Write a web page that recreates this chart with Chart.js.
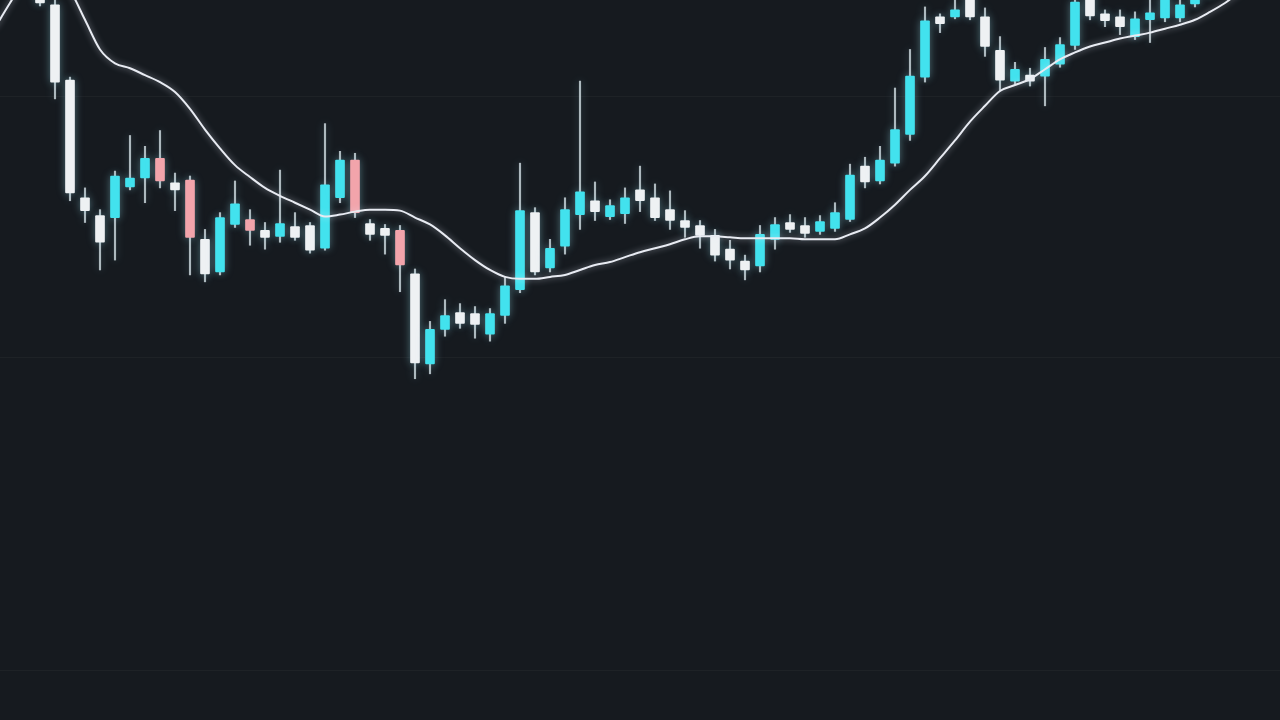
<!DOCTYPE html>
<html>
<head>
<meta charset="utf-8">
<script src="https://cdn.jsdelivr.net/npm/chart.js@4.4.1/dist/chart.umd.min.js"></script>
<style>
    html, body { margin: 0; padding: 0; background: #161a1f; }
    #wrap { width: 1280px; height: 720px; position: relative; }
</style>
</head>
<body>
<div id="wrap"><canvas id="chart"></canvas></div>
<script>
// trading days shown in the frame (day 0 only carries the average)
const days = [0, 1, 2, 3, 4, 5, 6, 7, 8, 9, 10, 11, 12, 13, 14, 15, 16, 17, 18, 19, 20,
    21, 22, 23, 24, 25, 26, 27, 28, 29, 30, 31, 32, 33, 34, 35, 36, 37, 38, 39, 40,
    41, 42, 43, 44, 45, 46, 47, 48, 49, 50, 51, 52, 53, 54, 55, 56, 57, 58, 59, 60,
    61, 62, 63, 64, 65, 66, 67, 68, 69, 70, 71, 72, 73, 74, 75, 76, 77, 78, 79, 80,
    81, 82, 83, 84, 85];

const open = [null, 775, 765, 730, 715, 639, 520, 502, 500, 531, 540, 560, 535, 538, 478, 445, 493, 498, 487, 481,
    491, 492, 469, 520, 558, 494, 489, 487, 443, 352, 387, 404, 403, 382, 401, 427, 505, 449, 471, 503,
    517, 501, 504, 528, 520, 508, 497, 492, 482, 468, 456, 451, 478, 495, 492, 486, 489, 498, 552, 537,
    555, 584, 642, 703, 703, 725, 703, 669, 638, 644, 643, 655, 674, 726, 706, 703, 683, 700, 702, 702,
    716, 726, 738, 750, 762, 770];

const high = [null, 785, 778, 735, 722, 642, 530, 508, 547, 583, 572, 588, 545, 542, 488, 505, 537, 508, 495, 548,
    505, 495, 595, 567, 565, 498, 493, 492, 448, 395, 417, 413, 410, 408, 440, 555, 510, 478, 520, 638,
    536, 518, 530, 552, 534, 527, 507, 497, 488, 477, 462, 492, 500, 503, 500, 502, 515, 554, 561, 572,
    631, 670, 713, 706, 722, 730, 712, 683, 657, 651, 672, 682, 723, 730, 710, 710, 708, 722, 728, 722,
    733, 745, 756, 770, 778, 790];

const low = [null, 750, 740, 714, 620, 517, 495, 447, 457, 528, 515, 530, 507, 442, 435, 442, 490, 472, 468, 475,
    477, 464, 467, 515, 500, 477, 463, 425, 337, 342, 380, 388, 378, 375, 393, 424, 442, 445, 463, 488,
    497, 498, 494, 506, 497, 488, 480, 469, 456, 448, 437, 445, 468, 485, 480, 483, 486, 496, 530, 534,
    552, 578, 637, 687, 701, 700, 663, 628, 635, 633, 613, 652, 670, 700, 693, 685, 680, 677, 698, 698,
    713, 722, 733, 745, 755, 764];

const close = [null, 760, 748, 717, 637, 525, 507, 475, 542, 540, 560, 537, 528, 480, 443, 500, 514, 487, 480, 494,
    480, 467, 533, 558, 505, 483, 482, 452, 353, 387, 401, 393, 392, 403, 431, 507, 445, 469, 508, 526,
    506, 512, 520, 517, 500, 497, 490, 482, 462, 457, 447, 483, 493, 488, 484, 496, 505, 543, 536, 558,
    589, 643, 699, 696, 710, 703, 673, 639, 650, 638, 660, 675, 718, 704, 699, 693, 701, 707, 724, 715,
    728, 738, 750, 762, 770, 782];

// moving average line
const ma = [692, 717, 740, 750, 748, 730, 700, 670, 656, 651, 644, 637, 627, 610, 589, 570, 553, 541, 530, 522,
    515, 508, 501, 503, 506, 508, 508, 507, 500, 493, 482, 469, 457, 447, 440, 438, 438, 440, 442, 447,
    452, 455, 460, 465, 469, 473, 478, 481, 481, 480, 479, 479, 479, 479, 478, 478, 478, 483, 489, 500,
    513, 528, 542, 560, 578, 597, 613, 628, 634, 640, 650, 660, 667, 673, 677, 681, 684, 687, 691, 695,
    700, 708, 717, 728, 738, 748];

// bearish days that show up in pink
const flagged = [11, 13, 17, 24, 27];

// faint horizontal grid levels
const gridLevels = [42, 358, 622];

const CYAN = '#42e2ee';
const WHITE = '#eef1f3';
const PINK = '#f2a4ab';

const bodyColor = (i) => {
    if (close[i] >= open[i]) return CYAN;
    return flagged.includes(days[i]) ? PINK : WHITE;
};

const glow = {
    id: 'glow',
    beforeDatasetDraw(chart, args) {
        const ctx = chart.ctx;
        ctx.save();
        ctx.shadowColor = args.index === 0 ? 'rgba(230,240,255,0.55)' : 'rgba(160,235,255,0.35)';
        ctx.shadowBlur = args.index === 0 ? 6 : 9;
    },
    afterDatasetDraw(chart) {
        chart.ctx.restore();
    }
};

new Chart(document.getElementById('chart'), {
    type: 'bar',
    data: {
        datasets: [
            {
                type: 'line',
                label: 'MA',
                data: days.map((d, i) => ({ x: d, y: ma[i] })),
                borderColor: '#e8ebf2',
                borderWidth: 2,
                pointRadius: 0,
                cubicInterpolationMode: 'monotone',
                order: 0
            },
            {
                label: 'body',
                data: days.map((d, i) => ({ x: d, y: open[i] === null ? null : [open[i], close[i]] })),
                backgroundColor: (c) => bodyColor(c.dataIndex),
                barThickness: 9,
                minBarLength: 3,
                borderSkipped: false,
                borderRadius: 1,
                grouped: false,
                order: 1
            },
            {
                label: 'wick',
                data: days.map((d, i) => ({ x: d, y: low[i] === null ? null : [low[i], high[i]] })),
                backgroundColor: 'rgba(210,222,228,0.8)',
                barThickness: 1.5,
                borderSkipped: false,
                grouped: false,
                order: 2
            }
        ]
    },
    options: {
        responsive: true,
        maintainAspectRatio: false,
        animation: false,
        layout: { padding: 0 },
        plugins: {
            legend: { display: false },
            tooltip: { enabled: false }
        },
        scales: {
            x: {
                type: 'linear',
                offset: false,
                min: 1 / 3,
                max: 85 + 2 / 3,
                ticks: { display: false },
                grid: { display: false, offset: false },
                border: { display: false }
            },
            y: {
                min: 0,
                max: 720,
                afterBuildTicks: (scale) => {
                    scale.ticks = gridLevels.map(v => ({ value: v }));
                },
                ticks: { display: false },
                grid: { color: 'rgba(255,255,255,0.035)', drawTicks: false },
                border: { display: false }
            }
        }
    },
    plugins: [glow]
});
</script>
</body>
</html>
